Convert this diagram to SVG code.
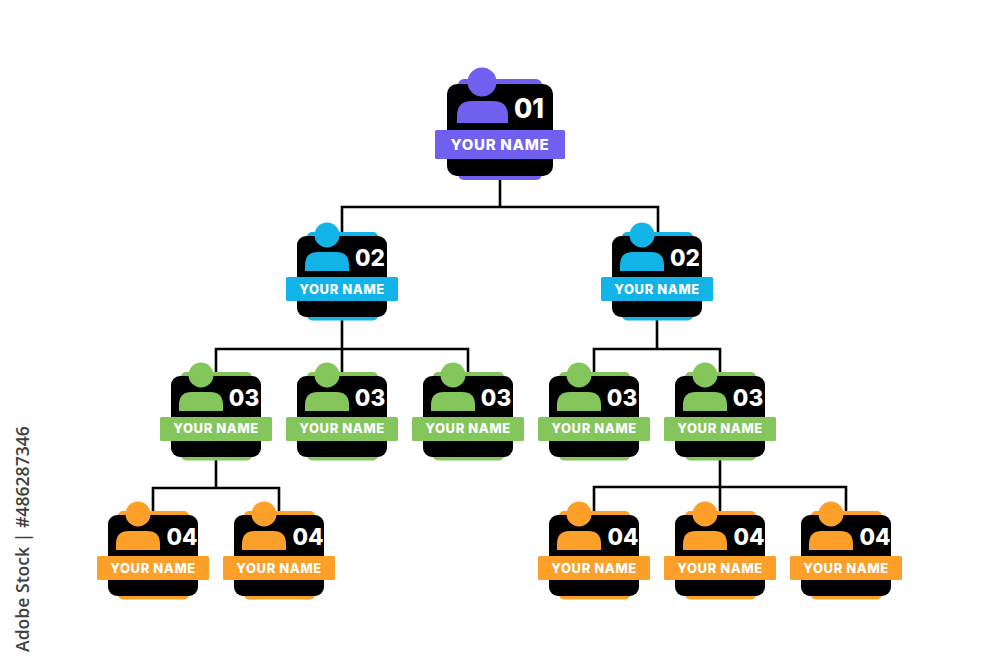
<svg xmlns="http://www.w3.org/2000/svg" width="1000" height="667" viewBox="0 0 1000 667">
<style>
.w{stroke:#000;stroke-width:2.6;fill:none}
.blk{fill:#000}
.c{fill:currentColor}
.v{color:#7160f0}.b{color:#12b3e6}.g{color:#84c65c}.o{color:#fda02a}
text{fill:#fff;font-family:"Inter","Liberation Sans",sans-serif;font-weight:800;text-anchor:middle}
.n{font-size:22.5px}
.l{font-size:13px;letter-spacing:.6px}
.big{font-size:26.5px}
.ll{font-size:15px;letter-spacing:.7px}
#wm{fill:#3f3f3f;font-family:"Open Sans","Liberation Sans",sans-serif;font-weight:600;font-size:17.6px;text-anchor:start}
</style>
<defs>
<g id="sm">
<rect class="c" x="-35" y="-4" width="71" height="88.5" rx="5"/>
<rect class="blk" x="-45" y="0" width="90" height="81" rx="9"/>
<circle class="c" cx="-15" cy="-1" r="12.5"/>
<path class="c" d="M-37 35V29Q-37 16-24 16H-6Q7 16 7 29V35Z"/>
<rect class="c" x="-56" y="41" width="112" height="24" rx="1.5"/>
</g>
<g id="lg">
<rect class="c" x="-42" y="-5" width="84" height="101" rx="6"/>
<rect class="blk" x="-53" y="0" width="106" height="92" rx="10"/>
<circle class="c" cx="-18" cy="-2" r="14.5"/>
<path class="c" d="M-43 39V32Q-43 17-28 17H-7Q8 17 8 32V39Z"/>
<rect class="c" x="-65" y="46" width="130" height="29" rx="1.5"/>
</g>
</defs>
<g id="connectors">
<path class="w" d="M500 176V207M342 236V207H658V236"/>
<path class="w" d="M342 317V349M216 376V349H468V376"/>
<path class="w" d="M342 349V376"/>
<path class="w" d="M657 317V349M594 376V349H720V376"/>
<path class="w" d="M216 457V488M153 515V488H279V515"/>
<path class="w" d="M720 457V487M594 515V487H846V515"/>
<path class="w" d="M720 487V515"/>
</g>
<g id="n01" class="v" transform="translate(500 84)"><use href="#lg"/><text class="big" x="29" y="34">01</text><text class="ll" y="66">YOUR NAME</text></g>
<g id="n02a" class="b" transform="translate(342 236)"><use href="#sm"/><text class="n" x="28" y="30">02</text><text class="l" y="58">YOUR NAME</text></g>
<g id="n02b" class="b" transform="translate(657 236)"><use href="#sm"/><text class="n" x="28" y="30">02</text><text class="l" y="58">YOUR NAME</text></g>
<g id="n03a" class="g" transform="translate(216 376)"><use href="#sm"/><text class="n" x="28" y="30">03</text><text class="l" y="57">YOUR NAME</text></g>
<g id="n03b" class="g" transform="translate(342 376)"><use href="#sm"/><text class="n" x="28" y="30">03</text><text class="l" y="57">YOUR NAME</text></g>
<g id="n03c" class="g" transform="translate(468 376)"><use href="#sm"/><text class="n" x="28" y="30">03</text><text class="l" y="57">YOUR NAME</text></g>
<g id="n03d" class="g" transform="translate(594 376)"><use href="#sm"/><text class="n" x="28" y="30">03</text><text class="l" y="57">YOUR NAME</text></g>
<g id="n03e" class="g" transform="translate(720 376)"><use href="#sm"/><text class="n" x="28" y="30">03</text><text class="l" y="57">YOUR NAME</text></g>
<g id="n04a" class="o" transform="translate(153 515)"><use href="#sm"/><text class="n" x="29" y="30">04</text><text class="l" y="58">YOUR NAME</text></g>
<g id="n04b" class="o" transform="translate(279 515)"><use href="#sm"/><text class="n" x="29" y="30">04</text><text class="l" y="58">YOUR NAME</text></g>
<g id="n04c" class="o" transform="translate(594 515)"><use href="#sm"/><text class="n" x="29" y="30">04</text><text class="l" y="58">YOUR NAME</text></g>
<g id="n04d" class="o" transform="translate(720 515)"><use href="#sm"/><text class="n" x="29" y="30">04</text><text class="l" y="58">YOUR NAME</text></g>
<g id="n04e" class="o" transform="translate(846 515)"><use href="#sm"/><text class="n" x="29" y="30">04</text><text class="l" y="58">YOUR NAME</text></g>
<text id="wm" transform="translate(29 652) rotate(-90)">Adobe Stock | #486287346</text>
</svg>
